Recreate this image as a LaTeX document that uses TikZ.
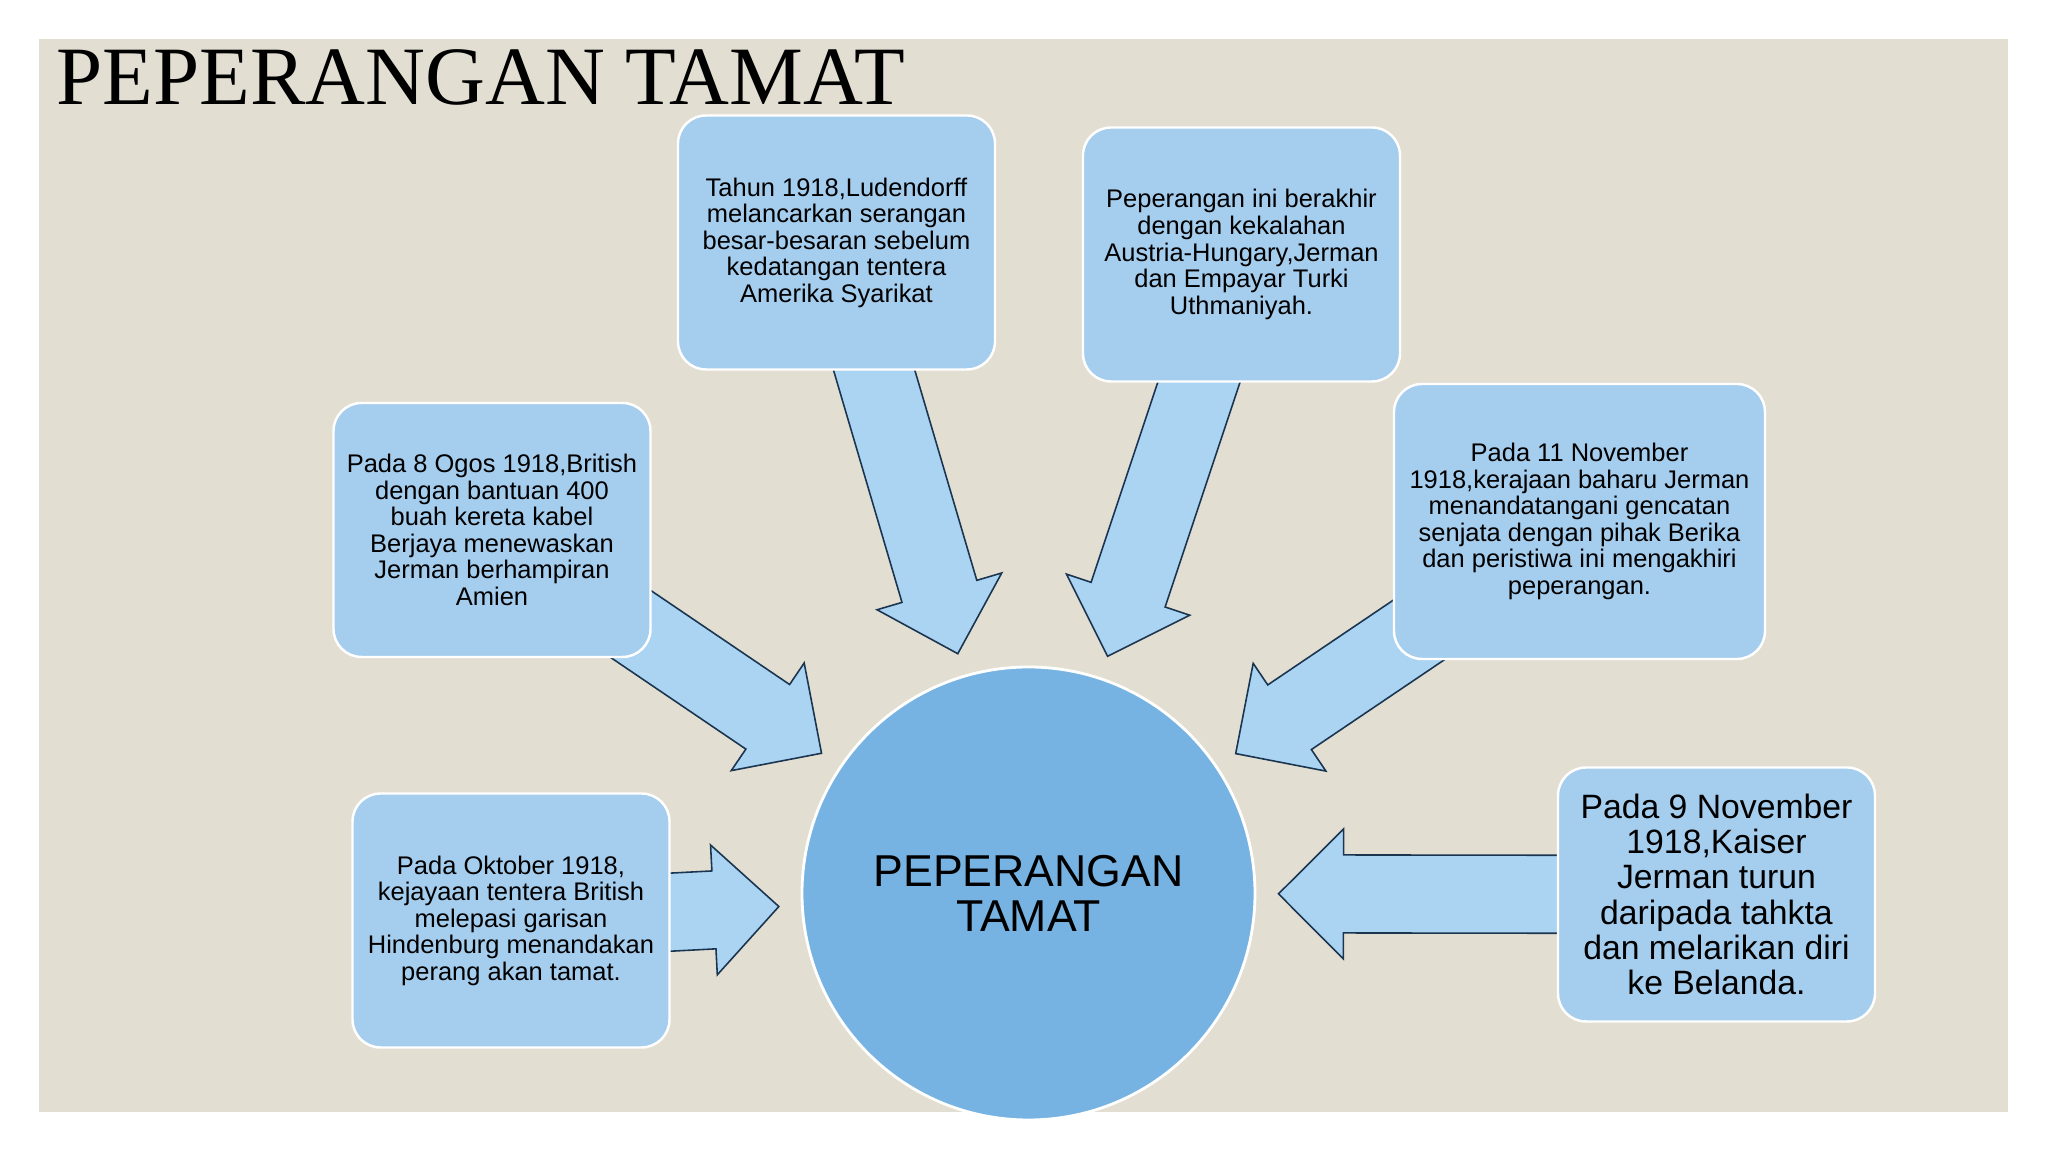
\documentclass[tikz,border=0pt]{standalone}
\usepackage{fontspec}
\setsansfont{Liberation Sans}
\newfontfamily\titlefont{Liberation Serif}
\usetikzlibrary{calc}
\pgfdeclarelayer{back}
\pgfdeclarelayer{mid}
\pgfsetlayers{back,mid,main}

% block arrow from a box towards the hub
\newcommand\fatarrow[2]{%
  \coordinate (tip) at ($(#2.center)!2.5cm!(#1.center)$);
  \coordinate (neck) at ($(tip)!0.65cm!(#1.center)$);
  \draw[fatarrow] ($(#1.center)!0.39cm!90:(tip)$) -- ($(neck)!0.39cm!90:(tip)$)
    -- ($(neck)!0.65cm!90:(tip)$) -- (tip) -- ($(neck)!0.65cm!-90:(tip)$)
    -- ($(neck)!0.39cm!-90:(tip)$) -- ($(#1.center)!0.39cm!-90:(tip)$) -- cycle;}

\begin{document}
\begin{tikzpicture}
%colours
	\definecolor{paper}{RGB}{227,222,210}
	\definecolor{boxblue}{RGB}{165,205,238}
	\definecolor{hubblue}{RGB}{119,179,226}
	\definecolor{arrowblue}{RGB}{171,211,242}
	\definecolor{edge}{RGB}{26,53,80}

	\tikzset{
	event/.style={draw=white, line width=0.7pt, fill=boxblue, rounded corners=0.28cm,
		minimum width=3.17cm, minimum height=2.54cm, align=center,
		font=\sffamily\fontsize{7.25}{7.55}\selectfont},
	hub/.style={circle, draw=white, line width=0.8pt, fill=hubblue, minimum size=4.53cm,
		align=center, font=\sffamily\fontsize{12.7}{12.6}\selectfont},
	fatarrow/.style={draw=edge, line width=0.45pt, fill=arrowblue, line join=miter}}

%hintergrund
	\useasboundingbox (0,0) rectangle (20.48,11.52);
	\begin{pgfonlayer}{back}
	\fill[white] (0,0) rectangle (20.48,11.52);
	\fill[paper] (0.39,0.40) rectangle (20.08,11.13);
	\end{pgfonlayer}

%titel
	\node[anchor=base west, inner sep=0pt, font=\titlefont\fontsize{23.6}{25}\selectfont] (title) at (0.56,10.47)
		{PEPERANGAN TAMAT};

%boxes
	\node[hub] (hub) at (10.285,2.585) {PEPERANGAN\\TAMAT};
	\node[event] (ludendorff) at (8.365,9.095)
		{Tahun 1918,Ludendorff\\melancarkan serangan\\besar-besaran sebelum\\kedatangan tentera\\Amerika Syarikat};
	\node[event] (kalah) at (12.415,8.975)
		{Peperangan ini berakhir\\dengan kekalahan\\Austria-Hungary,Jerman\\dan Empayar Turki\\Uthmaniyah.};
	\node[event] (amien) at (4.92,6.22)
		{Pada 8 Ogos 1918,British\\dengan bantuan 400\\buah kereta kabel\\Berjaya menewaskan\\Jerman berhampiran\\Amien};
	\node[event, minimum width=3.71cm, minimum height=2.75cm] (gencatan) at (15.795,6.305)
		{Pada 11 November\\1918,kerajaan baharu Jerman\\menandatangani gencatan\\senjata dengan pihak Berika\\dan peristiwa ini mengakhiri\\peperangan.};
	\node[event] (hindenburg) at (5.11,2.315)
		{Pada Oktober 1918,\\kejayaan tentera British\\melepasi garisan\\Hindenburg menandakan\\perang akan tamat.};
	\node[event, font=\sffamily\fontsize{9.6}{10}\selectfont] (kaiser) at (17.165,2.575)
		{Pada 9 November\\1918,Kaiser\\Jerman turun\\daripada tahkta\\dan melarikan diri\\ke Belanda.};

%pfeile
	\begin{pgfonlayer}{mid}
	\foreach \from in {ludendorff,kalah,amien,gencatan,hindenburg,kaiser}
		\fatarrow{\from}{hub};
	\end{pgfonlayer}
\end{tikzpicture}
\end{document}
